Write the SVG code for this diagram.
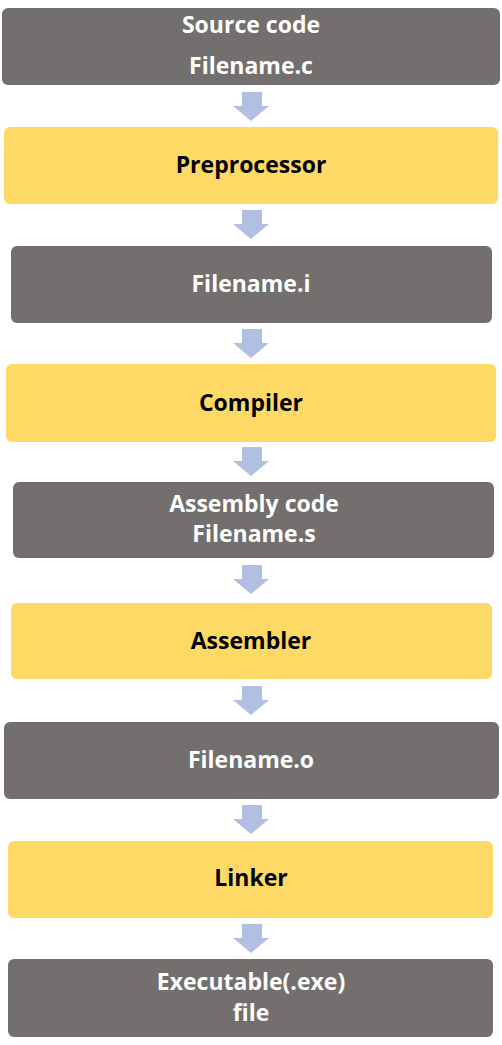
<svg xmlns="http://www.w3.org/2000/svg" width="502" height="1045" viewBox="0 0 502 1045">
<defs>
<style>
.g{fill:#736F6E}
.y{fill:#FFD966}
.t{font-family:"Open Sans","Liberation Sans",sans-serif;font-weight:bold;font-size:23px;text-anchor:middle}
.w{fill:#FFFFFF}
.k{fill:#000000}
.a{fill:#B1BFE3}
</style>
<path id="arr" d="M242 0 H262 V14 H269 L251 29 L233 14 H242 Z"/>
</defs>
<rect width="502" height="1045" fill="#FFFFFF"/>
<g id="connectors" class="a">
<use href="#arr" y="92"/>
<use href="#arr" y="210"/>
<use href="#arr" y="329"/>
<use href="#arr" y="447"/>
<use href="#arr" y="565"/>
<use href="#arr" y="686"/>
<use href="#arr" y="805"/>
<use href="#arr" y="924"/>
</g>
<g id="source">
<rect class="g" x="2" y="8" width="498" height="77" rx="6"/>
<text class="t w" x="251" y="33">Source code</text>
<text class="t w" x="251" y="74">Filename.c</text>
</g>
<g id="preprocessor">
<rect class="y" x="4" y="127" width="494" height="77" rx="6"/>
<text class="t k" x="251" y="173">Preprocessor</text>
</g>
<g id="filename-i">
<rect class="g" x="11" y="246" width="481" height="77" rx="6"/>
<text class="t w" x="251" y="292">Filename.i</text>
</g>
<g id="compiler">
<rect class="y" x="6" y="364" width="490" height="78" rx="6"/>
<text class="t k" x="251" y="411">Compiler</text>
</g>
<g id="assembly">
<rect class="g" x="13" y="482" width="481" height="76" rx="6"/>
<text class="t w" x="254" y="512">Assembly code</text>
<text class="t w" x="254" y="542">Filename.s</text>
</g>
<g id="assembler">
<rect class="y" x="11" y="603" width="481" height="76" rx="6"/>
<text class="t k" x="251" y="649">Assembler</text>
</g>
<g id="filename-o">
<rect class="g" x="4" y="722" width="495" height="77" rx="6"/>
<text class="t w" x="251" y="768">Filename.o</text>
</g>
<g id="linker">
<rect class="y" x="8" y="841" width="485" height="77" rx="6"/>
<text class="t k" x="251" y="886">Linker</text>
</g>
<g id="executable">
<rect class="g" x="8" y="959" width="485" height="78" rx="6"/>
<text class="t w" x="251" y="990">Executable(.exe)</text>
<text class="t w" x="251" y="1021">file</text>
</g>
</svg>
